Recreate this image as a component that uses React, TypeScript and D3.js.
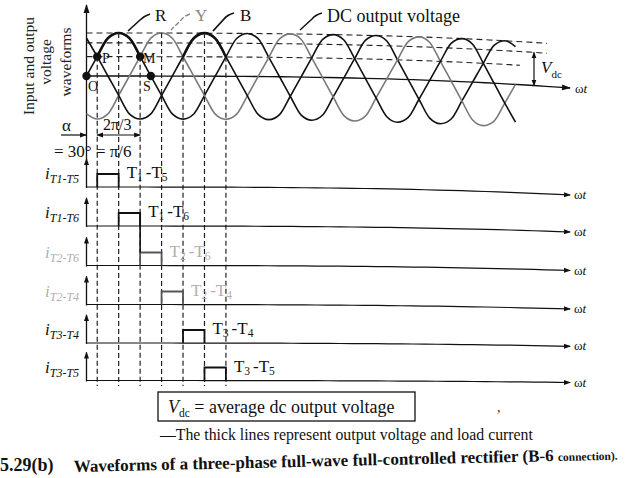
import React from "react";
import * as d3 from "d3";

const W = 638;
const H = 478;
const FONT = "'Liberation Serif', 'DejaVu Serif', serif";

// --- data ---
const phaseNames = ["R", "Y", "B"];
const phaseShift = [0, 120, 240]; // degrees
// one cycle of the drawn supply wave, sampled every 30 degrees (normalised)
const cycleAngles = [0, 30, 60, 90, 120, 150, 180, 210, 240, 270, 300, 330];
const cycleValues = [0, 0.45, 0.88, 1, 0.88, 0.45, 0, -0.45, -0.88, -1, -0.88, -0.45];
const wtEnd = 1200;
const refLevels = [1, 0.77, 0.45]; // dashed horizontal guide levels
const markerAngles = [30, 90, 150, 210, 270, 330, 390];
const markerLevels = [0.45, 1, 0.45, 1, 0.45, 1, 0.45];
const rowSubs = ["T1-T5", "T1-T6", "T2-T6", "T2-T4", "T3-T4", "T3-T5"];
const pulseFirst = ["1", "1", "2", "2", "3", "3"];
const pulseSecond = ["5", "6", "6", "4", "4", "5"];
const pulseStart = [30, 90, 150, 210, 270, 330];
const pulseWidth = 60;
const points = [
  { name: "O", wt: 0, v: 0 },
  { name: "P", wt: 30, v: 0.45 },
  { name: "M", wt: 150, v: 0.45 },
  { name: "S", wt: 180, v: 0 },
];

// --- layout ---
const x = d3.scaleLinear().domain([0, wtEnd]).range([86.5, 86.5 + (wtEnd * 42.9) / 120]);
const y = d3.scaleLinear().domain([-1, 1]).range([119, 33]);
const axisRight = 570;
const warp = (px: number, drop: number) => drop * Math.pow(Math.max(0, (px - 87) / 483), 3);
const mainDrop = 12;
const rowY = [187, 226, 265.5, 304.5, 343, 380.5];
const rowDrop = [8, 6, 5, 4.5, 3.3, 2];
const rowGray = [false, false, true, true, false, false];
const refEndX = [547, 547, 520];
const pulseH = 13;

const phaseValue = (wt: number, k: number) => {
  const a = (((wt - phaseShift[k]) % 360) + 360) % 360;
  return cycleValues[cycleAngles.indexOf(a)];
};

const wtSamples = d3.range(0, wtEnd + 1, 30);

const line = d3
  .line<[number, number]>()
  .x((d) => d[0])
  .y((d) => d[1])
  .curve(d3.curveMonotoneX);

const straight = d3.line<[number, number]>().x((d) => d[0]).y((d) => d[1]);

const warpedLine = (x0: number, x1: number, yy: number, drop: number) =>
  straight(d3.range(x0, x1 + 0.1, (x1 - x0) / 40).map((px) => [px, yy + warp(px, drop)] as [number, number]));

const App = () => {
  const wave = (k: number, from = 0, to = wtEnd) =>
    line(
      wtSamples
        .filter((wt) => wt >= from && wt <= to)
        .map((wt) => {
          const px = x(wt);
          return [px, y(phaseValue(wt, k)) + warp(px, mainDrop)] as [number, number];
        })
    );

  return (
    <svg width={W} height={H} style={{ display: "block", position: "absolute", left: 0, top: 0, background: "#fff" }} fontFamily={FONT}>
      <defs>
        <marker id="ah" markerUnits="userSpaceOnUse" markerWidth={9} markerHeight={7} refX={8} refY={3.5} orient="auto-start-reverse">
          <path d="M0,0.5 L9,3.5 L0,6.5 z" fill="#111" />
        </marker>
        <marker id="ahs" markerUnits="userSpaceOnUse" markerWidth={7} markerHeight={6} refX={6} refY={3} orient="auto-start-reverse">
          <path d="M0,0.5 L7,3 L0,5.5 z" fill="#111" />
        </marker>
      </defs>

      {/* y-axis title */}
      <g fill="#222" fontSize={15.5}>
        <text transform="translate(34,66) rotate(-90)" textAnchor="middle">Input and outpu</text>
        <text transform="translate(51,62) rotate(-90)" textAnchor="middle">voltage</text>
        <text transform="translate(71,62) rotate(-90)" textAnchor="middle">waveforms</text>
      </g>

      {/* main axes */}
      <line x1={86.5} y1={160} x2={86.5} y2={5} stroke="#111" strokeWidth={1.3} markerEnd="url(#ah)" />
      <path d={warpedLine(86.5, axisRight, y(0), mainDrop) ?? ""} fill="none" stroke="#111" strokeWidth={1.3} markerEnd="url(#ah)" />
      <text x={575} y={93} fontSize={13} fill="#111">ω<tspan fontStyle="italic">t</tspan></text>

      {/* dashed guide levels */}
      {refLevels.map((lv, i) => (
        <path key={i} d={warpedLine(86.5, refEndX[i], y(lv), mainDrop) ?? ""} fill="none" stroke="#222" strokeWidth={1.1} strokeDasharray="6,4" />
      ))}

      {/* supply waves */}
      {phaseNames.map((p, k) => (
        <path key={p} d={wave(k) ?? ""} fill="none" stroke={k === 1 ? "#7a7a7a" : "#111"} strokeWidth={1.6} />
      ))}
      {/* thick output segments */}
      <path d={wave(0, 30, 150) ?? ""} fill="none" stroke="#111" strokeWidth={2.6} />
      <path d={wave(2, 270, 390) ?? ""} fill="none" stroke="#111" strokeWidth={2.6} />

      {/* phase labels and leaders */}
      <g fontSize={17}>
        <path d="M150,14 Q144,16 140,20 L128,31" fill="none" stroke="#111" strokeWidth={1.6} />
        <text x={155} y={21} fill="#111">R</text>
        <path d="M190,14 Q184,16 181,20 L171,30" fill="none" stroke="#888" strokeWidth={1.4} strokeDasharray="5,2" />
        <text x={195} y={21} fill="#888">Y</text>
        <path d="M234,13 Q227,15 224,19 L213,31" fill="none" stroke="#111" strokeWidth={1.8} />
        <text x={240} y={21} fill="#111">B</text>
        <path d="M322,13 Q315,15 312,19 L300,30" fill="none" stroke="#111" strokeWidth={1.4} />
        <text x={327} y={22} fontSize={18} fill="#111">DC output voltage</text>
      </g>

      {/* Vdc marker */}
      <line x1={534} y1={y(refLevels[1]) + warp(534, mainDrop)} x2={534} y2={y(0) + warp(534, mainDrop)} stroke="#111" strokeWidth={1.2} markerStart="url(#ahs)" markerEnd="url(#ahs)" />
      <text x={541} y={73} fontSize={17} fill="#111" fontStyle="italic">V<tspan fontSize={11} fontStyle="normal" dy={5}>dc</tspan></text>

      {/* named points */}
      {points.map((pt) => (
        <circle key={pt.name} cx={x(pt.wt)} cy={y(pt.v)} r={4.2} fill="#111" />
      ))}
      <g fontSize={14} fill="#111">
        <text x={88} y={91}>O</text>
        <text x={102} y={63}>P</text>
        <text x={143} y={63}>M</text>
        <text x={143} y={91}>S</text>
      </g>

      {/* alpha and 2pi/3 annotations */}
      <text x={62} y={131} fontSize={17} fill="#111">α</text>
      <line x1={61} y1={135} x2={86} y2={135} stroke="#111" strokeWidth={1.2} markerEnd="url(#ahs)" />
      <text x={103} y={130} fontSize={16} fill="#111">2π/3</text>
      <line x1={x(30)} y1={135} x2={x(150)} y2={135} stroke="#111" strokeWidth={1.2} markerStart="url(#ahs)" markerEnd="url(#ahs)" />
      <text x={54} y={157} fontSize={17} fill="#111">= 30° = π/6</text>

      {/* vertical dashed markers */}
      {markerAngles.map((a, i) => (
        <line key={a} x1={x(a)} x2={x(a)} y1={y(markerLevels[i])} y2={386} stroke="#222" strokeWidth={1.2} strokeDasharray="5,3" />
      ))}

      {/* thyristor current rows */}
      {rowSubs.map((sub, i) => {
        const by = rowY[i];
        const x0 = x(pulseStart[i]);
        const x1 = x(pulseStart[i] + pulseWidth);
        const col = rowGray[i] ? "#555" : "#111";
        const txt = rowGray[i] ? "#b0b0b0" : "#111";
        return (
          <g key={sub}>
            <line x1={86.5} y1={by + 1} x2={86.5} y2={by - 28} stroke="#111" strokeWidth={1.3} markerEnd="url(#ahs)" />
            <path d={warpedLine(86.5, axisRight, by, rowDrop[i]) ?? ""} fill="none" stroke="#111" strokeWidth={1.2} markerEnd="url(#ahs)" />
            <text x={574} y={by + rowDrop[i] + 4} fontSize={13} fill="#111">ω<tspan fontStyle="italic">t</tspan></text>
            <path d={`M${x0},${by}V${by - pulseH}H${x1}V${by}`} fill="none" stroke={col} strokeWidth={1.8} />
            <text x={45} y={by - 8} fontSize={17} fontStyle="italic" fill={txt}>
              i<tspan fontSize={12} dy={4}>{sub}</tspan>
            </text>
            <text x={x1 + 8} y={by - 9} fontSize={17} fill={txt}>
              T<tspan fontSize={11.5} dy={3}>{pulseFirst[i]}</tspan>
              <tspan dy={-3} dx={3}>-T</tspan>
              <tspan fontSize={11.5} dy={3}>{pulseSecond[i]}</tspan>
            </text>
          </g>
        );
      })}
      {/* falling edge carried from T1-T6 down to T2-T6 */}
      <line x1={x(150)} x2={x(150)} y1={rowY[1] - pulseH} y2={rowY[2] - pulseH} stroke="#111" strokeWidth={1.6} />

      {/* notes */}
      <rect x={158} y={392} width={257} height={29} fill="none" stroke="#111" strokeWidth={1.3} />
      <text x={168} y={413} fontSize={18} fill="#111">
        <tspan fontStyle="italic">V</tspan>
        <tspan fontSize={11.5} dy={4}>dc</tspan>
        <tspan dy={-4}> = average dc output voltage</tspan>
      </text>
      <text x={497} y={412} fontSize={14} fill="#333">,</text>
      <text x={160} y={440} fontSize={15.8} fill="#111">—The thick lines represent output voltage and load current</text>
      <text x={0} y={471} fontSize={18} fontWeight="bold" fill="#111">5.29(b)</text>
      <text transform="translate(74,472) rotate(-1.3)" fontSize={17} fontWeight="bold" fill="#111">
        Waveforms of a three-phase full-wave full-controlled rectifier (B-6 <tspan fontSize={11.5}>connection).</tspan>
      </text>
    </svg>
  );
};

export default App;
